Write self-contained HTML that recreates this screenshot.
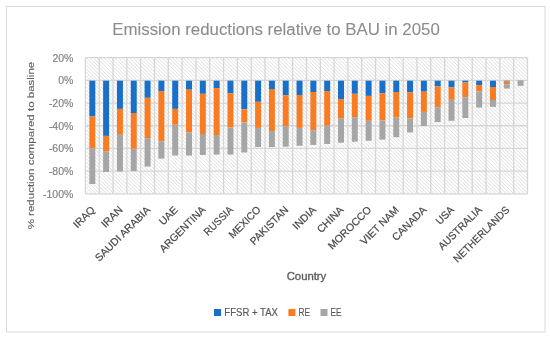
<!DOCTYPE html><html><head><meta charset="utf-8"><style>html,body{margin:0;padding:0;background:#fff;width:550px;height:338px;overflow:hidden}svg{display:block;will-change:transform}text{font-family:"Liberation Sans",sans-serif}</style></head><body>
<svg width="550" height="338" viewBox="0 0 550 338">
<rect x="0" y="0" width="550" height="338" fill="#fff"/>
<rect x="6.5" y="6.5" width="538.5" height="325.5" fill="none" stroke="#d9d9d9" stroke-width="1"/>
<clipPath id="pc"><rect x="85.4" y="57.7" width="442.1" height="136.10000000000002"/></clipPath>
<path clip-path="url(#pc)" d="M-54.40,57.7L81.70,193.8M-50.80,57.7L85.30,193.8M-47.20,57.7L88.90,193.8M-43.60,57.7L92.50,193.8M-40.00,57.7L96.10,193.8M-36.40,57.7L99.70,193.8M-32.80,57.7L103.30,193.8M-29.20,57.7L106.90,193.8M-25.60,57.7L110.50,193.8M-22.00,57.7L114.10,193.8M-18.40,57.7L117.70,193.8M-14.80,57.7L121.30,193.8M-11.20,57.7L124.90,193.8M-7.60,57.7L128.50,193.8M-4.00,57.7L132.10,193.8M-0.40,57.7L135.70,193.8M3.20,57.7L139.30,193.8M6.80,57.7L142.90,193.8M10.40,57.7L146.50,193.8M14.00,57.7L150.10,193.8M17.60,57.7L153.70,193.8M21.20,57.7L157.30,193.8M24.80,57.7L160.90,193.8M28.40,57.7L164.50,193.8M32.00,57.7L168.10,193.8M35.60,57.7L171.70,193.8M39.20,57.7L175.30,193.8M42.80,57.7L178.90,193.8M46.40,57.7L182.50,193.8M50.00,57.7L186.10,193.8M53.60,57.7L189.70,193.8M57.20,57.7L193.30,193.8M60.80,57.7L196.90,193.8M64.40,57.7L200.50,193.8M68.00,57.7L204.10,193.8M71.60,57.7L207.70,193.8M75.20,57.7L211.30,193.8M78.80,57.7L214.90,193.8M82.40,57.7L218.50,193.8M86.00,57.7L222.10,193.8M89.60,57.7L225.70,193.8M93.20,57.7L229.30,193.8M96.80,57.7L232.90,193.8M100.40,57.7L236.50,193.8M104.00,57.7L240.10,193.8M107.60,57.7L243.70,193.8M111.20,57.7L247.30,193.8M114.80,57.7L250.90,193.8M118.40,57.7L254.50,193.8M122.00,57.7L258.10,193.8M125.60,57.7L261.70,193.8M129.20,57.7L265.30,193.8M132.80,57.7L268.90,193.8M136.40,57.7L272.50,193.8M140.00,57.7L276.10,193.8M143.60,57.7L279.70,193.8M147.20,57.7L283.30,193.8M150.80,57.7L286.90,193.8M154.40,57.7L290.50,193.8M158.00,57.7L294.10,193.8M161.60,57.7L297.70,193.8M165.20,57.7L301.30,193.8M168.80,57.7L304.90,193.8M172.40,57.7L308.50,193.8M176.00,57.7L312.10,193.8M179.60,57.7L315.70,193.8M183.20,57.7L319.30,193.8M186.80,57.7L322.90,193.8M190.40,57.7L326.50,193.8M194.00,57.7L330.10,193.8M197.60,57.7L333.70,193.8M201.20,57.7L337.30,193.8M204.80,57.7L340.90,193.8M208.40,57.7L344.50,193.8M212.00,57.7L348.10,193.8M215.60,57.7L351.70,193.8M219.20,57.7L355.30,193.8M222.80,57.7L358.90,193.8M226.40,57.7L362.50,193.8M230.00,57.7L366.10,193.8M233.60,57.7L369.70,193.8M237.20,57.7L373.30,193.8M240.80,57.7L376.90,193.8M244.40,57.7L380.50,193.8M248.00,57.7L384.10,193.8M251.60,57.7L387.70,193.8M255.20,57.7L391.30,193.8M258.80,57.7L394.90,193.8M262.40,57.7L398.50,193.8M266.00,57.7L402.10,193.8M269.60,57.7L405.70,193.8M273.20,57.7L409.30,193.8M276.80,57.7L412.90,193.8M280.40,57.7L416.50,193.8M284.00,57.7L420.10,193.8M287.60,57.7L423.70,193.8M291.20,57.7L427.30,193.8M294.80,57.7L430.90,193.8M298.40,57.7L434.50,193.8M302.00,57.7L438.10,193.8M305.60,57.7L441.70,193.8M309.20,57.7L445.30,193.8M312.80,57.7L448.90,193.8M316.40,57.7L452.50,193.8M320.00,57.7L456.10,193.8M323.60,57.7L459.70,193.8M327.20,57.7L463.30,193.8M330.80,57.7L466.90,193.8M334.40,57.7L470.50,193.8M338.00,57.7L474.10,193.8M341.60,57.7L477.70,193.8M345.20,57.7L481.30,193.8M348.80,57.7L484.90,193.8M352.40,57.7L488.50,193.8M356.00,57.7L492.10,193.8M359.60,57.7L495.70,193.8M363.20,57.7L499.30,193.8M366.80,57.7L502.90,193.8M370.40,57.7L506.50,193.8M374.00,57.7L510.10,193.8M377.60,57.7L513.70,193.8M381.20,57.7L517.30,193.8M384.80,57.7L520.90,193.8M388.40,57.7L524.50,193.8M392.00,57.7L528.10,193.8M395.60,57.7L531.70,193.8M399.20,57.7L535.30,193.8M402.80,57.7L538.90,193.8M406.40,57.7L542.50,193.8M410.00,57.7L546.10,193.8M413.60,57.7L549.70,193.8M417.20,57.7L553.30,193.8M420.80,57.7L556.90,193.8M424.40,57.7L560.50,193.8M428.00,57.7L564.10,193.8M431.60,57.7L567.70,193.8M435.20,57.7L571.30,193.8M438.80,57.7L574.90,193.8M442.40,57.7L578.50,193.8M446.00,57.7L582.10,193.8M449.60,57.7L585.70,193.8M453.20,57.7L589.30,193.8M456.80,57.7L592.90,193.8M460.40,57.7L596.50,193.8M464.00,57.7L600.10,193.8M467.60,57.7L603.70,193.8M471.20,57.7L607.30,193.8M474.80,57.7L610.90,193.8M478.40,57.7L614.50,193.8M482.00,57.7L618.10,193.8M485.60,57.7L621.70,193.8M489.20,57.7L625.30,193.8M492.80,57.7L628.90,193.8M496.40,57.7L632.50,193.8M500.00,57.7L636.10,193.8M503.60,57.7L639.70,193.8M507.20,57.7L643.30,193.8M510.80,57.7L646.90,193.8M514.40,57.7L650.50,193.8M518.00,57.7L654.10,193.8M521.60,57.7L657.70,193.8M525.20,57.7L661.30,193.8" stroke="#dedede" stroke-width="0.95" fill="none"/>
<line x1="85.4" y1="57.70" x2="527.5" y2="57.70" stroke="#d6d6d6" stroke-width="1.3"/>
<line x1="85.4" y1="80.38" x2="527.5" y2="80.38" stroke="#d6d6d6" stroke-width="1.3"/>
<line x1="85.4" y1="103.07" x2="527.5" y2="103.07" stroke="#d6d6d6" stroke-width="1.3"/>
<line x1="85.4" y1="125.75" x2="527.5" y2="125.75" stroke="#d6d6d6" stroke-width="1.3"/>
<line x1="85.4" y1="148.43" x2="527.5" y2="148.43" stroke="#d6d6d6" stroke-width="1.3"/>
<line x1="85.4" y1="171.12" x2="527.5" y2="171.12" stroke="#d6d6d6" stroke-width="1.3"/>
<line x1="85.4" y1="193.80" x2="527.5" y2="193.80" stroke="#d6d6d6" stroke-width="1.3"/>
<line x1="85.40" y1="57.7" x2="85.40" y2="193.8" stroke="#d6d6d6" stroke-width="1.3"/>
<line x1="99.22" y1="57.7" x2="99.22" y2="193.8" stroke="#d6d6d6" stroke-width="1.3"/>
<line x1="113.03" y1="57.7" x2="113.03" y2="193.8" stroke="#d6d6d6" stroke-width="1.3"/>
<line x1="126.85" y1="57.7" x2="126.85" y2="193.8" stroke="#d6d6d6" stroke-width="1.3"/>
<line x1="140.66" y1="57.7" x2="140.66" y2="193.8" stroke="#d6d6d6" stroke-width="1.3"/>
<line x1="154.48" y1="57.7" x2="154.48" y2="193.8" stroke="#d6d6d6" stroke-width="1.3"/>
<line x1="168.29" y1="57.7" x2="168.29" y2="193.8" stroke="#d6d6d6" stroke-width="1.3"/>
<line x1="182.11" y1="57.7" x2="182.11" y2="193.8" stroke="#d6d6d6" stroke-width="1.3"/>
<line x1="195.93" y1="57.7" x2="195.93" y2="193.8" stroke="#d6d6d6" stroke-width="1.3"/>
<line x1="209.74" y1="57.7" x2="209.74" y2="193.8" stroke="#d6d6d6" stroke-width="1.3"/>
<line x1="223.56" y1="57.7" x2="223.56" y2="193.8" stroke="#d6d6d6" stroke-width="1.3"/>
<line x1="237.37" y1="57.7" x2="237.37" y2="193.8" stroke="#d6d6d6" stroke-width="1.3"/>
<line x1="251.19" y1="57.7" x2="251.19" y2="193.8" stroke="#d6d6d6" stroke-width="1.3"/>
<line x1="265.00" y1="57.7" x2="265.00" y2="193.8" stroke="#d6d6d6" stroke-width="1.3"/>
<line x1="278.82" y1="57.7" x2="278.82" y2="193.8" stroke="#d6d6d6" stroke-width="1.3"/>
<line x1="292.63" y1="57.7" x2="292.63" y2="193.8" stroke="#d6d6d6" stroke-width="1.3"/>
<line x1="306.45" y1="57.7" x2="306.45" y2="193.8" stroke="#d6d6d6" stroke-width="1.3"/>
<line x1="320.27" y1="57.7" x2="320.27" y2="193.8" stroke="#d6d6d6" stroke-width="1.3"/>
<line x1="334.08" y1="57.7" x2="334.08" y2="193.8" stroke="#d6d6d6" stroke-width="1.3"/>
<line x1="347.90" y1="57.7" x2="347.90" y2="193.8" stroke="#d6d6d6" stroke-width="1.3"/>
<line x1="361.71" y1="57.7" x2="361.71" y2="193.8" stroke="#d6d6d6" stroke-width="1.3"/>
<line x1="375.53" y1="57.7" x2="375.53" y2="193.8" stroke="#d6d6d6" stroke-width="1.3"/>
<line x1="389.34" y1="57.7" x2="389.34" y2="193.8" stroke="#d6d6d6" stroke-width="1.3"/>
<line x1="403.16" y1="57.7" x2="403.16" y2="193.8" stroke="#d6d6d6" stroke-width="1.3"/>
<line x1="416.98" y1="57.7" x2="416.98" y2="193.8" stroke="#d6d6d6" stroke-width="1.3"/>
<line x1="430.79" y1="57.7" x2="430.79" y2="193.8" stroke="#d6d6d6" stroke-width="1.3"/>
<line x1="444.61" y1="57.7" x2="444.61" y2="193.8" stroke="#d6d6d6" stroke-width="1.3"/>
<line x1="458.42" y1="57.7" x2="458.42" y2="193.8" stroke="#d6d6d6" stroke-width="1.3"/>
<line x1="472.24" y1="57.7" x2="472.24" y2="193.8" stroke="#d6d6d6" stroke-width="1.3"/>
<line x1="486.05" y1="57.7" x2="486.05" y2="193.8" stroke="#d6d6d6" stroke-width="1.3"/>
<line x1="499.87" y1="57.7" x2="499.87" y2="193.8" stroke="#d6d6d6" stroke-width="1.3"/>
<line x1="513.68" y1="57.7" x2="513.68" y2="193.8" stroke="#d6d6d6" stroke-width="1.3"/>
<line x1="527.50" y1="57.7" x2="527.50" y2="193.8" stroke="#d6d6d6" stroke-width="1.3"/>
<rect x="89.31" y="80.70" width="6.0" height="35.80" fill="#1a70c8"/>
<rect x="89.31" y="116.50" width="6.0" height="31.90" fill="#f97c22"/>
<rect x="89.31" y="148.40" width="6.0" height="35.60" fill="#a6a6a6"/>
<rect x="103.12" y="80.70" width="6.0" height="55.20" fill="#1a70c8"/>
<rect x="103.12" y="135.90" width="6.0" height="15.70" fill="#f97c22"/>
<rect x="103.12" y="151.60" width="6.0" height="20.40" fill="#a6a6a6"/>
<rect x="116.94" y="80.70" width="6.0" height="28.20" fill="#1a70c8"/>
<rect x="116.94" y="108.90" width="6.0" height="25.90" fill="#f97c22"/>
<rect x="116.94" y="134.80" width="6.0" height="36.70" fill="#a6a6a6"/>
<rect x="130.75" y="80.70" width="6.0" height="32.30" fill="#1a70c8"/>
<rect x="130.75" y="113.00" width="6.0" height="35.80" fill="#f97c22"/>
<rect x="130.75" y="148.80" width="6.0" height="22.20" fill="#a6a6a6"/>
<rect x="144.57" y="80.70" width="6.0" height="17.10" fill="#1a70c8"/>
<rect x="144.57" y="97.80" width="6.0" height="40.30" fill="#f97c22"/>
<rect x="144.57" y="138.10" width="6.0" height="28.40" fill="#a6a6a6"/>
<rect x="158.39" y="80.70" width="6.0" height="10.40" fill="#1a70c8"/>
<rect x="158.39" y="91.10" width="6.0" height="50.20" fill="#f97c22"/>
<rect x="158.39" y="141.30" width="6.0" height="17.30" fill="#a6a6a6"/>
<rect x="172.20" y="80.70" width="6.0" height="28.20" fill="#1a70c8"/>
<rect x="172.20" y="108.90" width="6.0" height="15.90" fill="#f97c22"/>
<rect x="172.20" y="124.80" width="6.0" height="30.70" fill="#a6a6a6"/>
<rect x="186.02" y="80.70" width="6.0" height="9.00" fill="#1a70c8"/>
<rect x="186.02" y="89.70" width="6.0" height="42.80" fill="#f97c22"/>
<rect x="186.02" y="132.50" width="6.0" height="23.00" fill="#a6a6a6"/>
<rect x="199.83" y="80.70" width="6.0" height="13.10" fill="#1a70c8"/>
<rect x="199.83" y="93.80" width="6.0" height="40.20" fill="#f97c22"/>
<rect x="199.83" y="134.00" width="6.0" height="21.00" fill="#a6a6a6"/>
<rect x="213.65" y="80.70" width="6.0" height="7.40" fill="#1a70c8"/>
<rect x="213.65" y="88.10" width="6.0" height="46.90" fill="#f97c22"/>
<rect x="213.65" y="135.00" width="6.0" height="19.60" fill="#a6a6a6"/>
<rect x="227.46" y="80.70" width="6.0" height="12.50" fill="#1a70c8"/>
<rect x="227.46" y="93.20" width="6.0" height="34.30" fill="#f97c22"/>
<rect x="227.46" y="127.50" width="6.0" height="27.10" fill="#a6a6a6"/>
<rect x="241.28" y="80.70" width="6.0" height="28.50" fill="#1a70c8"/>
<rect x="241.28" y="109.20" width="6.0" height="13.30" fill="#f97c22"/>
<rect x="241.28" y="122.50" width="6.0" height="30.00" fill="#a6a6a6"/>
<rect x="255.10" y="80.70" width="6.0" height="21.10" fill="#1a70c8"/>
<rect x="255.10" y="101.80" width="6.0" height="26.10" fill="#f97c22"/>
<rect x="255.10" y="127.90" width="6.0" height="19.10" fill="#a6a6a6"/>
<rect x="268.91" y="80.70" width="6.0" height="8.30" fill="#1a70c8"/>
<rect x="268.91" y="89.00" width="6.0" height="42.10" fill="#f97c22"/>
<rect x="268.91" y="131.10" width="6.0" height="15.90" fill="#a6a6a6"/>
<rect x="282.73" y="80.70" width="6.0" height="14.50" fill="#1a70c8"/>
<rect x="282.73" y="95.20" width="6.0" height="30.90" fill="#f97c22"/>
<rect x="282.73" y="126.10" width="6.0" height="20.60" fill="#a6a6a6"/>
<rect x="296.54" y="80.70" width="6.0" height="14.30" fill="#1a70c8"/>
<rect x="296.54" y="95.00" width="6.0" height="32.90" fill="#f97c22"/>
<rect x="296.54" y="127.90" width="6.0" height="17.90" fill="#a6a6a6"/>
<rect x="310.36" y="80.70" width="6.0" height="11.30" fill="#1a70c8"/>
<rect x="310.36" y="92.00" width="6.0" height="38.20" fill="#f97c22"/>
<rect x="310.36" y="130.20" width="6.0" height="14.70" fill="#a6a6a6"/>
<rect x="324.17" y="80.70" width="6.0" height="10.40" fill="#1a70c8"/>
<rect x="324.17" y="91.10" width="6.0" height="34.60" fill="#f97c22"/>
<rect x="324.17" y="125.70" width="6.0" height="18.30" fill="#a6a6a6"/>
<rect x="337.99" y="80.70" width="6.0" height="18.40" fill="#1a70c8"/>
<rect x="337.99" y="99.10" width="6.0" height="19.50" fill="#f97c22"/>
<rect x="337.99" y="118.60" width="6.0" height="24.10" fill="#a6a6a6"/>
<rect x="351.80" y="80.70" width="6.0" height="13.10" fill="#1a70c8"/>
<rect x="351.80" y="93.80" width="6.0" height="23.40" fill="#f97c22"/>
<rect x="351.80" y="117.20" width="6.0" height="24.50" fill="#a6a6a6"/>
<rect x="365.62" y="80.70" width="6.0" height="15.20" fill="#1a70c8"/>
<rect x="365.62" y="95.90" width="6.0" height="24.90" fill="#f97c22"/>
<rect x="365.62" y="120.80" width="6.0" height="20.00" fill="#a6a6a6"/>
<rect x="379.44" y="80.70" width="6.0" height="12.70" fill="#1a70c8"/>
<rect x="379.44" y="93.40" width="6.0" height="27.00" fill="#f97c22"/>
<rect x="379.44" y="120.40" width="6.0" height="19.20" fill="#a6a6a6"/>
<rect x="393.25" y="80.70" width="6.0" height="11.30" fill="#1a70c8"/>
<rect x="393.25" y="92.00" width="6.0" height="25.70" fill="#f97c22"/>
<rect x="393.25" y="117.70" width="6.0" height="19.50" fill="#a6a6a6"/>
<rect x="407.07" y="80.70" width="6.0" height="11.60" fill="#1a70c8"/>
<rect x="407.07" y="92.30" width="6.0" height="26.00" fill="#f97c22"/>
<rect x="407.07" y="118.30" width="6.0" height="14.20" fill="#a6a6a6"/>
<rect x="420.88" y="80.70" width="6.0" height="11.00" fill="#1a70c8"/>
<rect x="420.88" y="91.70" width="6.0" height="20.20" fill="#f97c22"/>
<rect x="420.88" y="111.90" width="6.0" height="14.10" fill="#a6a6a6"/>
<rect x="434.70" y="80.70" width="6.0" height="5.80" fill="#1a70c8"/>
<rect x="434.70" y="86.50" width="6.0" height="20.80" fill="#f97c22"/>
<rect x="434.70" y="107.30" width="6.0" height="14.70" fill="#a6a6a6"/>
<rect x="448.51" y="80.70" width="6.0" height="6.80" fill="#1a70c8"/>
<rect x="448.51" y="87.50" width="6.0" height="12.30" fill="#f97c22"/>
<rect x="448.51" y="99.80" width="6.0" height="21.00" fill="#a6a6a6"/>
<rect x="462.33" y="80.70" width="6.0" height="1.80" fill="#1a70c8"/>
<rect x="462.33" y="82.50" width="6.0" height="14.70" fill="#f97c22"/>
<rect x="462.33" y="97.20" width="6.0" height="20.80" fill="#a6a6a6"/>
<rect x="476.15" y="80.70" width="6.0" height="4.35" fill="#1a70c8"/>
<rect x="476.15" y="85.05" width="6.0" height="6.35" fill="#f97c22"/>
<rect x="476.15" y="91.40" width="6.0" height="16.20" fill="#a6a6a6"/>
<rect x="489.96" y="80.70" width="6.0" height="6.30" fill="#1a70c8"/>
<rect x="489.96" y="87.00" width="6.0" height="13.00" fill="#f97c22"/>
<rect x="489.96" y="100.00" width="6.0" height="6.90" fill="#a6a6a6"/>
<rect x="503.78" y="80.70" width="6.0" height="0.80" fill="#1a70c8"/>
<rect x="503.78" y="81.50" width="6.0" height="2.70" fill="#f97c22"/>
<rect x="503.78" y="84.20" width="6.0" height="4.40" fill="#a6a6a6"/>
<rect x="517.59" y="80.70" width="6.0" height="-0.40" fill="#1a70c8"/>
<rect x="517.59" y="80.30" width="6.0" height="0.20" fill="#f97c22"/>
<rect x="517.59" y="80.50" width="6.0" height="5.30" fill="#a6a6a6"/>
<text x="112.3" y="35.3" font-size="17.4" fill="#8c8c8c" stroke="#8c8c8c" stroke-width="0.08" textLength="327.5" lengthAdjust="spacingAndGlyphs">Emission reductions relative to BAU in 2050</text>
<text x="73.4" y="61.50" font-size="10.5" fill="#7f7f7f" stroke="#7f7f7f" stroke-width="0.15" text-anchor="end">20%</text>
<text x="73.4" y="84.18" font-size="10.5" fill="#7f7f7f" stroke="#7f7f7f" stroke-width="0.15" text-anchor="end">0%</text>
<text x="73.4" y="106.87" font-size="10.5" fill="#7f7f7f" stroke="#7f7f7f" stroke-width="0.15" text-anchor="end">-20%</text>
<text x="73.4" y="129.55" font-size="10.5" fill="#7f7f7f" stroke="#7f7f7f" stroke-width="0.15" text-anchor="end">-40%</text>
<text x="73.4" y="152.23" font-size="10.5" fill="#7f7f7f" stroke="#7f7f7f" stroke-width="0.15" text-anchor="end">-60%</text>
<text x="73.4" y="174.92" font-size="10.5" fill="#7f7f7f" stroke="#7f7f7f" stroke-width="0.15" text-anchor="end">-80%</text>
<text x="73.4" y="197.60" font-size="10.5" fill="#7f7f7f" stroke="#7f7f7f" stroke-width="0.15" text-anchor="end">-100%</text>
<text transform="translate(34.4,229.3) rotate(-90)" font-size="9.7" fill="#5f5f5f" stroke="#5f5f5f" stroke-width="0.12" textLength="167.5" lengthAdjust="spacingAndGlyphs">% reduction compared to basline</text>
<text transform="translate(95.61,210.50) rotate(-45)" font-size="10.5" fill="#474747" stroke="#474747" stroke-width="0.2" text-anchor="end" textLength="25.67" lengthAdjust="spacingAndGlyphs">IRAQ</text>
<text transform="translate(123.24,210.50) rotate(-45)" font-size="10.5" fill="#474747" stroke="#474747" stroke-width="0.2" text-anchor="end" textLength="25.09" lengthAdjust="spacingAndGlyphs">IRAN</text>
<text transform="translate(150.87,210.50) rotate(-45)" font-size="10.5" fill="#474747" stroke="#474747" stroke-width="0.2" text-anchor="end" textLength="72.95" lengthAdjust="spacingAndGlyphs">SAUDI ARABIA</text>
<text transform="translate(178.50,210.50) rotate(-45)" font-size="10.5" fill="#474747" stroke="#474747" stroke-width="0.2" text-anchor="end" textLength="21.59" lengthAdjust="spacingAndGlyphs">UAE</text>
<text transform="translate(206.13,210.50) rotate(-45)" font-size="10.5" fill="#474747" stroke="#474747" stroke-width="0.2" text-anchor="end" textLength="60.04" lengthAdjust="spacingAndGlyphs">ARGENTINA</text>
<text transform="translate(233.76,210.50) rotate(-45)" font-size="10.5" fill="#474747" stroke="#474747" stroke-width="0.2" text-anchor="end" textLength="36.35" lengthAdjust="spacingAndGlyphs">RUSSIA</text>
<text transform="translate(261.40,210.50) rotate(-45)" font-size="10.5" fill="#474747" stroke="#474747" stroke-width="0.2" text-anchor="end" textLength="40.18" lengthAdjust="spacingAndGlyphs">MEXICO</text>
<text transform="translate(289.03,210.50) rotate(-45)" font-size="10.5" fill="#474747" stroke="#474747" stroke-width="0.2" text-anchor="end" textLength="49.37" lengthAdjust="spacingAndGlyphs">PAKISTAN</text>
<text transform="translate(316.66,210.50) rotate(-45)" font-size="10.5" fill="#474747" stroke="#474747" stroke-width="0.2" text-anchor="end" textLength="28.02" lengthAdjust="spacingAndGlyphs">INDIA</text>
<text transform="translate(344.29,210.50) rotate(-45)" font-size="10.5" fill="#474747" stroke="#474747" stroke-width="0.2" text-anchor="end" textLength="32.67" lengthAdjust="spacingAndGlyphs">CHINA</text>
<text transform="translate(371.92,210.50) rotate(-45)" font-size="10.5" fill="#474747" stroke="#474747" stroke-width="0.2" text-anchor="end" textLength="56.00" lengthAdjust="spacingAndGlyphs">MOROCCO</text>
<text transform="translate(399.55,210.50) rotate(-45)" font-size="10.5" fill="#474747" stroke="#474747" stroke-width="0.2" text-anchor="end" textLength="49.41" lengthAdjust="spacingAndGlyphs">VIET NAM</text>
<text transform="translate(427.18,210.50) rotate(-45)" font-size="10.5" fill="#474747" stroke="#474747" stroke-width="0.2" text-anchor="end" textLength="43.77" lengthAdjust="spacingAndGlyphs">CANADA</text>
<text transform="translate(454.81,210.50) rotate(-45)" font-size="10.5" fill="#474747" stroke="#474747" stroke-width="0.2" text-anchor="end" textLength="20.94" lengthAdjust="spacingAndGlyphs">USA</text>
<text transform="translate(482.45,210.50) rotate(-45)" font-size="10.5" fill="#474747" stroke="#474747" stroke-width="0.2" text-anchor="end" textLength="56.61" lengthAdjust="spacingAndGlyphs">AUSTRALIA</text>
<text transform="translate(510.08,210.50) rotate(-45)" font-size="10.5" fill="#474747" stroke="#474747" stroke-width="0.2" text-anchor="end" textLength="74.28" lengthAdjust="spacingAndGlyphs">NETHERLANDS</text>
<text x="286.7" y="280.4" font-size="10.4" fill="#595959" stroke="#595959" stroke-width="0.3" textLength="39.6" lengthAdjust="spacingAndGlyphs">Country</text>
<rect x="214" y="309" width="7" height="7" fill="#1a70c8"/>
<text x="224.3" y="315.7" font-size="10.5" fill="#595959" stroke="#595959" stroke-width="0.18" textLength="53.7" lengthAdjust="spacingAndGlyphs">FFSR + TAX</text>
<rect x="288.4" y="309" width="7" height="7" fill="#f97c22"/>
<text x="298.6" y="315.7" font-size="10.5" fill="#595959" stroke="#595959" stroke-width="0.18" textLength="11.5" lengthAdjust="spacingAndGlyphs">RE</text>
<rect x="320.5" y="309" width="7" height="7" fill="#a6a6a6"/>
<text x="330.6" y="315.7" font-size="10.5" fill="#595959" stroke="#595959" stroke-width="0.18" textLength="11" lengthAdjust="spacingAndGlyphs">EE</text>
</svg></body></html>
